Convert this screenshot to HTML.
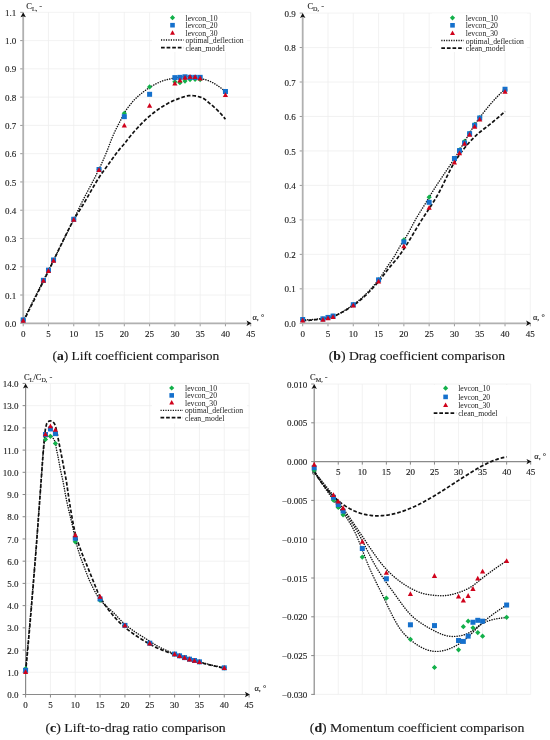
<!DOCTYPE html>
<html><head><meta charset="utf-8"><style>
html,body{margin:0;padding:0;background:#fff;}
svg{display:block;font-family:"Liberation Serif", serif;will-change:transform;}
text{stroke:#141414;stroke-width:0.12px;}
text.lg{stroke:none;}
</style></head><body>
<svg width="550" height="740" viewBox="0 0 550 740">
<rect width="550" height="740" fill="#fff"/>
<line x1="23.2" y1="323.3" x2="250.72" y2="323.3" stroke="#efefef" stroke-width="0.8"/>
<line x1="23.2" y1="295.03" x2="250.72" y2="295.03" stroke="#efefef" stroke-width="0.8"/>
<line x1="23.2" y1="266.76" x2="250.72" y2="266.76" stroke="#efefef" stroke-width="0.8"/>
<line x1="23.2" y1="238.49" x2="250.72" y2="238.49" stroke="#efefef" stroke-width="0.8"/>
<line x1="23.2" y1="210.22" x2="250.72" y2="210.22" stroke="#efefef" stroke-width="0.8"/>
<line x1="23.2" y1="181.95" x2="250.72" y2="181.95" stroke="#efefef" stroke-width="0.8"/>
<line x1="23.2" y1="153.68" x2="250.72" y2="153.68" stroke="#efefef" stroke-width="0.8"/>
<line x1="23.2" y1="125.41" x2="250.72" y2="125.41" stroke="#efefef" stroke-width="0.8"/>
<line x1="23.2" y1="97.14" x2="250.72" y2="97.14" stroke="#efefef" stroke-width="0.8"/>
<line x1="23.2" y1="68.87" x2="250.72" y2="68.87" stroke="#efefef" stroke-width="0.8"/>
<line x1="23.2" y1="40.6" x2="250.72" y2="40.6" stroke="#efefef" stroke-width="0.8"/>
<line x1="23.2" y1="12.33" x2="250.72" y2="12.33" stroke="#efefef" stroke-width="0.8"/>
<line x1="48.48" y1="12.33" x2="48.48" y2="323.3" stroke="#efefef" stroke-width="0.8"/>
<line x1="73.76" y1="12.33" x2="73.76" y2="323.3" stroke="#efefef" stroke-width="0.8"/>
<line x1="99.04" y1="12.33" x2="99.04" y2="323.3" stroke="#efefef" stroke-width="0.8"/>
<line x1="124.32" y1="12.33" x2="124.32" y2="323.3" stroke="#efefef" stroke-width="0.8"/>
<line x1="149.6" y1="12.33" x2="149.6" y2="323.3" stroke="#efefef" stroke-width="0.8"/>
<line x1="174.88" y1="12.33" x2="174.88" y2="323.3" stroke="#efefef" stroke-width="0.8"/>
<line x1="200.16" y1="12.33" x2="200.16" y2="323.3" stroke="#efefef" stroke-width="0.8"/>
<line x1="225.44" y1="12.33" x2="225.44" y2="323.3" stroke="#efefef" stroke-width="0.8"/>
<line x1="250.72" y1="12.33" x2="250.72" y2="323.3" stroke="#efefef" stroke-width="0.8"/>
<line x1="20.2" y1="323.3" x2="23.2" y2="323.3" stroke="#999" stroke-width="1"/>
<text x="16.2" y="326.9" text-anchor="end" font-size="9" fill="#222222">0.0</text>
<line x1="20.2" y1="295.03" x2="23.2" y2="295.03" stroke="#999" stroke-width="1"/>
<text x="16.2" y="298.63" text-anchor="end" font-size="9" fill="#222222">0.1</text>
<line x1="20.2" y1="266.76" x2="23.2" y2="266.76" stroke="#999" stroke-width="1"/>
<text x="16.2" y="270.36" text-anchor="end" font-size="9" fill="#222222">0.2</text>
<line x1="20.2" y1="238.49" x2="23.2" y2="238.49" stroke="#999" stroke-width="1"/>
<text x="16.2" y="242.09" text-anchor="end" font-size="9" fill="#222222">0.3</text>
<line x1="20.2" y1="210.22" x2="23.2" y2="210.22" stroke="#999" stroke-width="1"/>
<text x="16.2" y="213.82" text-anchor="end" font-size="9" fill="#222222">0.4</text>
<line x1="20.2" y1="181.95" x2="23.2" y2="181.95" stroke="#999" stroke-width="1"/>
<text x="16.2" y="185.55" text-anchor="end" font-size="9" fill="#222222">0.5</text>
<line x1="20.2" y1="153.68" x2="23.2" y2="153.68" stroke="#999" stroke-width="1"/>
<text x="16.2" y="157.28" text-anchor="end" font-size="9" fill="#222222">0.6</text>
<line x1="20.2" y1="125.41" x2="23.2" y2="125.41" stroke="#999" stroke-width="1"/>
<text x="16.2" y="129.01" text-anchor="end" font-size="9" fill="#222222">0.7</text>
<line x1="20.2" y1="97.14" x2="23.2" y2="97.14" stroke="#999" stroke-width="1"/>
<text x="16.2" y="100.74" text-anchor="end" font-size="9" fill="#222222">0.8</text>
<line x1="20.2" y1="68.87" x2="23.2" y2="68.87" stroke="#999" stroke-width="1"/>
<text x="16.2" y="72.47" text-anchor="end" font-size="9" fill="#222222">0.9</text>
<line x1="20.2" y1="40.6" x2="23.2" y2="40.6" stroke="#999" stroke-width="1"/>
<text x="16.2" y="44.2" text-anchor="end" font-size="9" fill="#222222">1.0</text>
<line x1="20.2" y1="12.33" x2="23.2" y2="12.33" stroke="#999" stroke-width="1"/>
<text x="16.2" y="15.93" text-anchor="end" font-size="9" fill="#222222">1.1</text>
<line x1="23.2" y1="323.3" x2="23.2" y2="326.3" stroke="#999" stroke-width="1"/>
<text x="23.2" y="336.5" text-anchor="middle" font-size="9" fill="#222222">0</text>
<line x1="48.48" y1="323.3" x2="48.48" y2="326.3" stroke="#999" stroke-width="1"/>
<text x="48.48" y="336.5" text-anchor="middle" font-size="9" fill="#222222">5</text>
<line x1="73.76" y1="323.3" x2="73.76" y2="326.3" stroke="#999" stroke-width="1"/>
<text x="73.76" y="336.5" text-anchor="middle" font-size="9" fill="#222222">10</text>
<line x1="99.04" y1="323.3" x2="99.04" y2="326.3" stroke="#999" stroke-width="1"/>
<text x="99.04" y="336.5" text-anchor="middle" font-size="9" fill="#222222">15</text>
<line x1="124.32" y1="323.3" x2="124.32" y2="326.3" stroke="#999" stroke-width="1"/>
<text x="124.32" y="336.5" text-anchor="middle" font-size="9" fill="#222222">20</text>
<line x1="149.6" y1="323.3" x2="149.6" y2="326.3" stroke="#999" stroke-width="1"/>
<text x="149.6" y="336.5" text-anchor="middle" font-size="9" fill="#222222">25</text>
<line x1="174.88" y1="323.3" x2="174.88" y2="326.3" stroke="#999" stroke-width="1"/>
<text x="174.88" y="336.5" text-anchor="middle" font-size="9" fill="#222222">30</text>
<line x1="200.16" y1="323.3" x2="200.16" y2="326.3" stroke="#999" stroke-width="1"/>
<text x="200.16" y="336.5" text-anchor="middle" font-size="9" fill="#222222">35</text>
<line x1="225.44" y1="323.3" x2="225.44" y2="326.3" stroke="#999" stroke-width="1"/>
<text x="225.44" y="336.5" text-anchor="middle" font-size="9" fill="#222222">40</text>
<line x1="250.72" y1="323.3" x2="250.72" y2="326.3" stroke="#999" stroke-width="1"/>
<text x="250.72" y="336.5" text-anchor="middle" font-size="9" fill="#222222">45</text>
<line x1="23.2" y1="323.8" x2="23.2" y2="15.33" stroke="#b0b0b0" stroke-width="1.8"/>
<line x1="22.7" y1="323.3" x2="247.72" y2="323.3" stroke="#b0b0b0" stroke-width="1.8"/>
<path d="M23.2,12.33 L25.9,17.33 L23.2,16.13 L20.5,17.33Z" fill="#111"/>
<path d="M251.52,323.3 L246.52,320.6 L247.72,323.3 L246.52,326Z" fill="#111"/>
<path d="M23.2,321.89 L24.46,319.35 L25.73,316.81 L26.99,314.27 L28.26,311.73 L29.52,309.19 L30.78,306.65 L32.05,304.11 L33.31,301.57 L34.58,299.02 L35.84,296.48 L37.1,293.93 L38.37,291.39 L39.63,288.84 L40.9,286.3 L42.16,283.75 L43.42,281.2 L44.69,278.65 L45.95,276.1 L47.22,273.55 L48.48,271 L49.74,268.43 L51.01,265.84 L52.27,263.22 L53.54,260.58 L54.8,257.93 L56.06,255.27 L57.33,252.61 L58.59,249.95 L59.86,247.29 L61.12,244.64 L62.38,242.01 L63.65,239.4 L64.91,236.82 L66.18,234.26 L67.44,231.74 L68.7,229.26 L69.97,226.83 L71.23,224.44 L72.5,222.11 L73.76,219.83 L75.02,217.64 L76.29,215.54 L77.55,213.49 L78.82,211.49 L80.08,209.49 L81.34,207.49 L82.61,205.45 L83.87,203.36 L85.14,201.21 L86.4,199.03 L87.66,196.82 L88.93,194.6 L90.19,192.37 L91.46,190.15 L92.72,187.94 L93.98,185.76 L95.25,183.61 L96.51,181.51 L97.78,179.46 L99.04,177.48 L100.3,175.57 L101.57,173.74 L102.83,171.96 L104.1,170.22 L105.36,168.5 L106.62,166.79 L107.89,165.06 L109.15,163.31 L110.42,161.55 L111.68,159.77 L112.94,157.99 L114.21,156.24 L115.47,154.51 L116.74,152.82 L118,151.18 L119.26,149.61 L120.53,148.13 L121.79,146.71 L123.06,145.28 L124.32,143.79 L125.58,142.18 L126.85,140.5 L128.11,138.84 L129.38,137.26 L130.64,135.74 L131.9,134.24 L133.17,132.76 L134.43,131.31 L135.7,129.88 L136.96,128.48 L138.22,127.1 L139.49,125.75 L140.75,124.44 L142.02,123.15 L143.28,121.89 L144.54,120.66 L145.81,119.45 L147.07,118.29 L148.34,117.16 L149.6,116.08 L150.86,115.03 L152.13,114 L153.39,112.99 L154.66,112 L155.92,111.04 L157.18,110.11 L158.45,109.21 L159.71,108.34 L160.98,107.51 L162.24,106.72 L163.5,105.94 L164.77,105.18 L166.03,104.43 L167.3,103.71 L168.56,103.01 L169.82,102.34 L171.09,101.71 L172.35,101.12 L173.62,100.57 L174.88,100.08 L176.14,99.6 L177.41,99.12 L178.67,98.63 L179.94,98.14 L181.2,97.68 L182.46,97.23 L183.73,96.83 L184.99,96.46 L186.26,96.15 L187.52,95.89 L188.78,95.71 L190.05,95.61 L191.31,95.59 L192.58,95.65 L193.84,95.77 L195.1,95.95 L196.37,96.18 L197.63,96.44 L198.9,96.75 L200.16,97.08 L201.42,97.44 L202.69,98.01 L203.95,98.77 L205.22,99.68 L206.48,100.7 L207.74,101.76 L209.01,102.82 L210.27,103.84 L211.54,104.87 L212.8,105.94 L214.06,107.05 L215.33,108.2 L216.59,109.4 L217.86,110.64 L219.12,111.92 L220.38,113.27 L221.65,114.67 L222.91,116.13 L224.18,117.64 L225.44,119.19" fill="none" stroke="#111" stroke-width="1.7" stroke-dasharray="3.7 1.9"/>
<path d="M23.2,320.47 L24.46,317.97 L25.73,315.47 L26.99,312.96 L28.26,310.45 L29.52,307.95 L30.78,305.44 L32.05,302.92 L33.31,300.41 L34.58,297.9 L35.84,295.38 L37.1,292.87 L38.37,290.35 L39.63,287.83 L40.9,285.31 L42.16,282.79 L43.42,280.26 L44.69,277.74 L45.95,275.21 L47.22,272.68 L48.48,270.15 L49.74,267.62 L51.01,265.1 L52.27,262.57 L53.54,260.05 L54.8,257.53 L56.06,255 L57.33,252.48 L58.59,249.95 L59.86,247.43 L61.12,244.89 L62.38,242.36 L63.65,239.82 L64.91,237.28 L66.18,234.73 L67.44,232.17 L68.7,229.61 L69.97,227.03 L71.23,224.45 L72.5,221.87 L73.76,219.27 L75.02,216.64 L76.29,213.97 L77.55,211.29 L78.82,208.62 L80.08,205.99 L81.34,203.4 L82.61,200.88 L83.87,198.41 L85.14,195.97 L86.4,193.56 L87.66,191.17 L88.93,188.79 L90.19,186.42 L91.46,184.03 L92.72,181.63 L93.98,179.21 L95.25,176.74 L96.51,174.24 L97.78,171.68 L99.04,169.06 L100.3,166.37 L101.57,163.62 L102.83,160.8 L104.1,157.93 L105.36,154.99 L106.62,151.97 L107.89,148.77 L109.15,145.46 L110.42,142.13 L111.68,138.88 L112.94,135.8 L114.21,132.95 L115.47,130.29 L116.74,127.75 L118,125.29 L119.26,122.86 L120.53,120.41 L121.79,117.87 L123.06,115.32 L124.32,112.91 L125.58,110.79 L126.85,109.01 L128.11,107.38 L129.38,105.76 L130.64,104.13 L131.9,102.54 L133.17,101.04 L134.43,99.68 L135.7,98.45 L136.96,97.26 L138.22,96.12 L139.49,95.01 L140.75,93.95 L142.02,92.93 L143.28,91.95 L144.54,91 L145.81,90.08 L147.07,89.2 L148.34,88.35 L149.6,87.53 L150.86,86.73 L152.13,85.96 L153.39,85.22 L154.66,84.52 L155.92,83.85 L157.18,83.22 L158.45,82.63 L159.71,82.08 L160.98,81.56 L162.24,81.05 L163.5,80.58 L164.77,80.16 L166.03,79.8 L167.3,79.5 L168.56,79.22 L169.82,78.94 L171.09,78.66 L172.35,78.39 L173.62,78.13 L174.88,77.89 L176.14,77.65 L177.41,77.43 L178.67,77.23 L179.94,77.05 L181.2,76.89 L182.46,76.76 L183.73,76.65 L184.99,76.57 L186.26,76.52 L187.52,76.5 L188.78,76.53 L190.05,76.59 L191.31,76.7 L192.58,76.84 L193.84,77.02 L195.1,77.23 L196.37,77.47 L197.63,77.73 L198.9,78.01 L200.16,78.31 L201.42,78.62 L202.69,78.94 L203.95,79.28 L205.22,79.61 L206.48,79.98 L207.74,80.42 L209.01,80.91 L210.27,81.46 L211.54,82.07 L212.8,82.73 L214.06,83.43 L215.33,84.19 L216.59,84.98 L217.86,85.82 L219.12,86.69 L220.38,87.59 L221.65,88.53 L222.91,89.49 L224.18,90.48 L225.44,91.49" fill="none" stroke="#111" stroke-width="1.45" stroke-linecap="round" stroke-dasharray="0.15 2.3"/>
<path d="M23.2,317.87 L25.8,320.47 L23.2,323.07 L20.6,320.47Z" fill="#12b04a"/>
<path d="M43.42,278.3 L46.02,280.9 L43.42,283.5 L40.82,280.9Z" fill="#12b04a"/>
<path d="M48.48,267.84 L51.08,270.44 L48.48,273.04 L45.88,270.44Z" fill="#12b04a"/>
<path d="M53.54,257.66 L56.14,260.26 L53.54,262.86 L50.94,260.26Z" fill="#12b04a"/>
<path d="M73.76,216.67 L76.36,219.27 L73.76,221.87 L71.16,219.27Z" fill="#12b04a"/>
<path d="M99.04,166.63 L101.64,169.23 L99.04,171.83 L96.44,169.23Z" fill="#12b04a"/>
<path d="M124.32,110.65 L126.92,113.25 L124.32,115.85 L121.72,113.25Z" fill="#12b04a"/>
<path d="M149.6,84.36 L152.2,86.96 L149.6,89.56 L147,86.96Z" fill="#12b04a"/>
<path d="M174.88,79.27 L177.48,81.87 L174.88,84.47 L172.28,81.87Z" fill="#12b04a"/>
<path d="M179.94,80.12 L182.54,82.72 L179.94,85.32 L177.34,82.72Z" fill="#12b04a"/>
<path d="M184.99,78.43 L187.59,81.03 L184.99,83.63 L182.39,81.03Z" fill="#12b04a"/>
<path d="M190.05,77.01 L192.65,79.61 L190.05,82.21 L187.45,79.61Z" fill="#12b04a"/>
<path d="M195.1,76.73 L197.7,79.33 L195.1,81.93 L192.5,79.33Z" fill="#12b04a"/>
<path d="M200.16,77.01 L202.76,79.61 L200.16,82.21 L197.56,79.61Z" fill="#12b04a"/>
<path d="M225.44,88.89 L228.04,91.49 L225.44,94.09 L222.84,91.49Z" fill="#12b04a"/>
<rect x="20.7" y="317.41" width="5" height="5" fill="#1570cc"/>
<rect x="40.92" y="277.83" width="5" height="5" fill="#1570cc"/>
<rect x="45.98" y="267.65" width="5" height="5" fill="#1570cc"/>
<rect x="51.04" y="257.48" width="5" height="5" fill="#1570cc"/>
<rect x="71.26" y="216.77" width="5" height="5" fill="#1570cc"/>
<rect x="96.54" y="167.01" width="5" height="5" fill="#1570cc"/>
<rect x="121.82" y="114.15" width="5" height="5" fill="#1570cc"/>
<rect x="147.1" y="91.81" width="5" height="5" fill="#1570cc"/>
<rect x="172.38" y="75.13" width="5" height="5" fill="#1570cc"/>
<rect x="177.44" y="74.85" width="5" height="5" fill="#1570cc"/>
<rect x="182.49" y="74.29" width="5" height="5" fill="#1570cc"/>
<rect x="187.55" y="74.85" width="5" height="5" fill="#1570cc"/>
<rect x="192.6" y="74.85" width="5" height="5" fill="#1570cc"/>
<rect x="197.66" y="74.85" width="5" height="5" fill="#1570cc"/>
<rect x="222.94" y="88.99" width="5" height="5" fill="#1570cc"/>
<path d="M23.2,317.87 L25.8,322.68 L20.6,322.68Z" fill="#d0021b"/>
<path d="M43.42,278.01 L46.02,282.82 L40.82,282.82Z" fill="#d0021b"/>
<path d="M48.48,268.12 L51.08,272.93 L45.88,272.93Z" fill="#d0021b"/>
<path d="M53.54,257.94 L56.14,262.75 L50.94,262.75Z" fill="#d0021b"/>
<path d="M73.76,216.95 L76.36,221.76 L71.16,221.76Z" fill="#d0021b"/>
<path d="M99.04,167.19 L101.64,172 L96.44,172Z" fill="#d0021b"/>
<path d="M124.32,122.81 L126.92,127.62 L121.72,127.62Z" fill="#d0021b"/>
<path d="M149.6,103.02 L152.2,107.83 L147,107.83Z" fill="#d0021b"/>
<path d="M174.88,80.69 L177.48,85.5 L172.28,85.5Z" fill="#d0021b"/>
<path d="M179.94,77.58 L182.54,82.39 L177.34,82.39Z" fill="#d0021b"/>
<path d="M184.99,75.03 L187.59,79.84 L182.39,79.84Z" fill="#d0021b"/>
<path d="M190.05,73.9 L192.65,78.71 L187.45,78.71Z" fill="#d0021b"/>
<path d="M195.1,74.19 L197.7,79 L192.5,79Z" fill="#d0021b"/>
<path d="M200.16,75.6 L202.76,80.41 L197.56,80.41Z" fill="#d0021b"/>
<path d="M225.44,92.28 L228.04,97.09 L222.84,97.09Z" fill="#d0021b"/>
<rect x="152" y="13" width="95" height="39" fill="#fff"/>
<path d="M172.5,15.1 L175.1,17.7 L172.5,20.3 L169.9,17.7Z" fill="#12b04a"/>
<text class="lg" x="185.5" y="20.7" font-size="7.7" fill="#1a1a1a">levcon_10</text>
<rect x="170.2" y="22.9" width="4.6" height="4.6" fill="#1570cc"/>
<text class="lg" x="185.5" y="28.2" font-size="7.7" fill="#1a1a1a">levcon_20</text>
<path d="M172.5,30.2 L175,34.83 L170,34.83Z" fill="#d0021b"/>
<text class="lg" x="185.5" y="35.7" font-size="7.7" fill="#1a1a1a">levcon_30</text>
<line x1="161" y1="40" x2="183.5" y2="40" stroke="#111" stroke-width="1.3" stroke-dasharray="1.2 1.25"/>
<text class="lg" x="185.5" y="43" font-size="7.7" fill="#1a1a1a">optimal_deflection</text>
<line x1="161" y1="47.7" x2="183.5" y2="47.7" stroke="#111" stroke-width="1.7" stroke-dasharray="3.7 1.9"/>
<text class="lg" x="185.5" y="50.7" font-size="7.7" fill="#1a1a1a">clean_model</text>
<line x1="302.7" y1="323.3" x2="530.31" y2="323.3" stroke="#efefef" stroke-width="0.8"/>
<line x1="302.7" y1="288.83" x2="530.31" y2="288.83" stroke="#efefef" stroke-width="0.8"/>
<line x1="302.7" y1="254.36" x2="530.31" y2="254.36" stroke="#efefef" stroke-width="0.8"/>
<line x1="302.7" y1="219.89" x2="530.31" y2="219.89" stroke="#efefef" stroke-width="0.8"/>
<line x1="302.7" y1="185.42" x2="530.31" y2="185.42" stroke="#efefef" stroke-width="0.8"/>
<line x1="302.7" y1="150.95" x2="530.31" y2="150.95" stroke="#efefef" stroke-width="0.8"/>
<line x1="302.7" y1="116.48" x2="530.31" y2="116.48" stroke="#efefef" stroke-width="0.8"/>
<line x1="302.7" y1="82.01" x2="530.31" y2="82.01" stroke="#efefef" stroke-width="0.8"/>
<line x1="302.7" y1="47.54" x2="530.31" y2="47.54" stroke="#efefef" stroke-width="0.8"/>
<line x1="302.7" y1="13.07" x2="530.31" y2="13.07" stroke="#efefef" stroke-width="0.8"/>
<line x1="327.99" y1="13.07" x2="327.99" y2="323.3" stroke="#efefef" stroke-width="0.8"/>
<line x1="353.28" y1="13.07" x2="353.28" y2="323.3" stroke="#efefef" stroke-width="0.8"/>
<line x1="378.57" y1="13.07" x2="378.57" y2="323.3" stroke="#efefef" stroke-width="0.8"/>
<line x1="403.86" y1="13.07" x2="403.86" y2="323.3" stroke="#efefef" stroke-width="0.8"/>
<line x1="429.15" y1="13.07" x2="429.15" y2="323.3" stroke="#efefef" stroke-width="0.8"/>
<line x1="454.44" y1="13.07" x2="454.44" y2="323.3" stroke="#efefef" stroke-width="0.8"/>
<line x1="479.73" y1="13.07" x2="479.73" y2="323.3" stroke="#efefef" stroke-width="0.8"/>
<line x1="505.02" y1="13.07" x2="505.02" y2="323.3" stroke="#efefef" stroke-width="0.8"/>
<line x1="530.31" y1="13.07" x2="530.31" y2="323.3" stroke="#efefef" stroke-width="0.8"/>
<line x1="299.7" y1="323.3" x2="302.7" y2="323.3" stroke="#999" stroke-width="1"/>
<text x="295.7" y="326.9" text-anchor="end" font-size="9" fill="#222222">0.0</text>
<line x1="299.7" y1="288.83" x2="302.7" y2="288.83" stroke="#999" stroke-width="1"/>
<text x="295.7" y="292.43" text-anchor="end" font-size="9" fill="#222222">0.1</text>
<line x1="299.7" y1="254.36" x2="302.7" y2="254.36" stroke="#999" stroke-width="1"/>
<text x="295.7" y="257.96" text-anchor="end" font-size="9" fill="#222222">0.2</text>
<line x1="299.7" y1="219.89" x2="302.7" y2="219.89" stroke="#999" stroke-width="1"/>
<text x="295.7" y="223.49" text-anchor="end" font-size="9" fill="#222222">0.3</text>
<line x1="299.7" y1="185.42" x2="302.7" y2="185.42" stroke="#999" stroke-width="1"/>
<text x="295.7" y="189.02" text-anchor="end" font-size="9" fill="#222222">0.4</text>
<line x1="299.7" y1="150.95" x2="302.7" y2="150.95" stroke="#999" stroke-width="1"/>
<text x="295.7" y="154.55" text-anchor="end" font-size="9" fill="#222222">0.5</text>
<line x1="299.7" y1="116.48" x2="302.7" y2="116.48" stroke="#999" stroke-width="1"/>
<text x="295.7" y="120.08" text-anchor="end" font-size="9" fill="#222222">0.6</text>
<line x1="299.7" y1="82.01" x2="302.7" y2="82.01" stroke="#999" stroke-width="1"/>
<text x="295.7" y="85.61" text-anchor="end" font-size="9" fill="#222222">0.7</text>
<line x1="299.7" y1="47.54" x2="302.7" y2="47.54" stroke="#999" stroke-width="1"/>
<text x="295.7" y="51.14" text-anchor="end" font-size="9" fill="#222222">0.8</text>
<line x1="299.7" y1="13.07" x2="302.7" y2="13.07" stroke="#999" stroke-width="1"/>
<text x="295.7" y="16.67" text-anchor="end" font-size="9" fill="#222222">0.9</text>
<line x1="302.7" y1="323.3" x2="302.7" y2="326.3" stroke="#999" stroke-width="1"/>
<text x="302.7" y="336.5" text-anchor="middle" font-size="9" fill="#222222">0</text>
<line x1="327.99" y1="323.3" x2="327.99" y2="326.3" stroke="#999" stroke-width="1"/>
<text x="327.99" y="336.5" text-anchor="middle" font-size="9" fill="#222222">5</text>
<line x1="353.28" y1="323.3" x2="353.28" y2="326.3" stroke="#999" stroke-width="1"/>
<text x="353.28" y="336.5" text-anchor="middle" font-size="9" fill="#222222">10</text>
<line x1="378.57" y1="323.3" x2="378.57" y2="326.3" stroke="#999" stroke-width="1"/>
<text x="378.57" y="336.5" text-anchor="middle" font-size="9" fill="#222222">15</text>
<line x1="403.86" y1="323.3" x2="403.86" y2="326.3" stroke="#999" stroke-width="1"/>
<text x="403.86" y="336.5" text-anchor="middle" font-size="9" fill="#222222">20</text>
<line x1="429.15" y1="323.3" x2="429.15" y2="326.3" stroke="#999" stroke-width="1"/>
<text x="429.15" y="336.5" text-anchor="middle" font-size="9" fill="#222222">25</text>
<line x1="454.44" y1="323.3" x2="454.44" y2="326.3" stroke="#999" stroke-width="1"/>
<text x="454.44" y="336.5" text-anchor="middle" font-size="9" fill="#222222">30</text>
<line x1="479.73" y1="323.3" x2="479.73" y2="326.3" stroke="#999" stroke-width="1"/>
<text x="479.73" y="336.5" text-anchor="middle" font-size="9" fill="#222222">35</text>
<line x1="505.02" y1="323.3" x2="505.02" y2="326.3" stroke="#999" stroke-width="1"/>
<text x="505.02" y="336.5" text-anchor="middle" font-size="9" fill="#222222">40</text>
<line x1="530.31" y1="323.3" x2="530.31" y2="326.3" stroke="#999" stroke-width="1"/>
<text x="530.31" y="336.5" text-anchor="middle" font-size="9" fill="#222222">45</text>
<line x1="302.7" y1="323.8" x2="302.7" y2="16.07" stroke="#b0b0b0" stroke-width="1.8"/>
<line x1="302.2" y1="323.3" x2="527.31" y2="323.3" stroke="#b0b0b0" stroke-width="1.8"/>
<path d="M302.7,13.07 L305.4,18.07 L302.7,16.87 L300,18.07Z" fill="#111"/>
<path d="M531.11,323.3 L526.11,320.6 L527.31,323.3 L526.11,326Z" fill="#111"/>
<path d="M302.7,320.54 L303.96,320.53 L305.23,320.51 L306.49,320.46 L307.76,320.4 L309.02,320.32 L310.29,320.23 L311.55,320.12 L312.82,320 L314.08,319.87 L315.34,319.73 L316.61,319.57 L317.87,319.41 L319.14,319.23 L320.4,319.04 L321.67,318.85 L322.93,318.65 L324.2,318.44 L325.46,318.23 L326.73,318.01 L327.99,317.78 L329.25,317.53 L330.52,317.22 L331.78,316.85 L333.05,316.44 L334.31,315.98 L335.58,315.47 L336.84,314.92 L338.11,314.33 L339.37,313.71 L340.63,313.05 L341.9,312.37 L343.16,311.66 L344.43,310.92 L345.69,310.17 L346.96,309.4 L348.22,308.61 L349.49,307.81 L350.75,307 L352.02,306.19 L353.28,305.38 L354.54,304.54 L355.81,303.65 L357.07,302.71 L358.34,301.73 L359.6,300.71 L360.87,299.64 L362.13,298.54 L363.4,297.4 L364.66,296.23 L365.92,295.02 L367.19,293.78 L368.45,292.52 L369.72,291.23 L370.98,289.91 L372.25,288.57 L373.51,287.21 L374.78,285.83 L376.04,284.43 L377.31,283.02 L378.57,281.59 L379.83,280.05 L381.1,278.38 L382.36,276.7 L383.63,275.02 L384.89,273.32 L386.16,271.62 L387.42,269.98 L388.69,268.39 L389.95,266.85 L391.21,265.35 L392.48,263.86 L393.74,262.4 L395.01,261 L396.27,259.57 L397.54,258.01 L398.8,256.33 L400.07,254.57 L401.33,252.74 L402.6,250.87 L403.86,248.98 L405.12,247.07 L406.39,245.1 L407.65,243.1 L408.92,241.05 L410.18,238.97 L411.45,236.88 L412.71,234.76 L413.98,232.64 L415.24,230.52 L416.5,228.4 L417.77,226.3 L419.03,224.21 L420.3,222.15 L421.56,220.13 L422.83,218.15 L424.09,216.22 L425.36,214.32 L426.62,212.44 L427.89,210.56 L429.15,208.66 L430.41,206.73 L431.68,204.76 L432.94,202.74 L434.21,200.7 L435.47,198.61 L436.74,196.48 L438,194.29 L439.27,191.99 L440.53,189.59 L441.79,187.11 L443.06,184.55 L444.32,181.96 L445.59,179.34 L446.85,176.73 L448.12,174.14 L449.38,171.59 L450.65,169.12 L451.91,166.73 L453.18,164.46 L454.44,162.33 L455.7,160.3 L456.97,158.33 L458.23,156.43 L459.5,154.6 L460.76,152.83 L462.03,151.13 L463.29,149.49 L464.56,147.91 L465.82,146.38 L467.08,144.89 L468.35,143.45 L469.61,142.04 L470.88,140.67 L472.14,139.35 L473.41,138.06 L474.67,136.82 L475.94,135.61 L477.2,134.45 L478.47,133.34 L479.73,132.27 L480.99,131.24 L482.26,130.24 L483.52,129.26 L484.79,128.3 L486.05,127.33 L487.32,126.37 L488.58,125.39 L489.85,124.4 L491.11,123.38 L492.38,122.33 L493.64,121.27 L494.9,120.21 L496.17,119.14 L497.43,118.06 L498.7,116.98 L499.96,115.89 L501.23,114.8 L502.49,113.7 L503.76,112.59 L505.02,111.48" fill="none" stroke="#111" stroke-width="1.7" stroke-dasharray="3.7 1.9"/>
<path d="M302.7,319.85 L303.96,319.85 L305.23,319.83 L306.49,319.8 L307.76,319.75 L309.02,319.7 L310.29,319.63 L311.55,319.55 L312.82,319.47 L314.08,319.37 L315.34,319.27 L316.61,319.15 L317.87,319.03 L319.14,318.9 L320.4,318.76 L321.67,318.61 L322.93,318.46 L324.2,318.3 L325.46,318.13 L326.73,317.96 L327.99,317.78 L329.25,317.57 L330.52,317.28 L331.78,316.93 L333.05,316.51 L334.31,316.04 L335.58,315.51 L336.84,314.93 L338.11,314.31 L339.37,313.64 L340.63,312.93 L341.9,312.19 L343.16,311.42 L344.43,310.63 L345.69,309.81 L346.96,308.98 L348.22,308.13 L349.49,307.27 L350.75,306.41 L352.02,305.55 L353.28,304.69 L354.54,303.81 L355.81,302.88 L357.07,301.92 L358.34,300.91 L359.6,299.87 L360.87,298.78 L362.13,297.65 L363.4,296.49 L364.66,295.29 L365.92,294.05 L367.19,292.78 L368.45,291.47 L369.72,290.13 L370.98,288.76 L372.25,287.35 L373.51,285.91 L374.78,284.45 L376.04,282.95 L377.31,281.42 L378.57,279.87 L379.83,278.19 L381.1,276.34 L382.36,274.36 L383.63,272.33 L384.89,270.28 L386.16,268.29 L387.42,266.4 L388.69,264.59 L389.95,262.83 L391.21,261.05 L392.48,259.23 L393.74,257.32 L395.01,255.26 L396.27,253.02 L397.54,250.69 L398.8,248.37 L400.07,246.14 L401.33,244.09 L402.6,242.18 L403.86,240.31 L405.12,238.41 L406.39,236.4 L407.65,234.23 L408.92,231.94 L410.18,229.57 L411.45,227.16 L412.71,224.74 L413.98,222.35 L415.24,220.03 L416.5,217.82 L417.77,215.7 L419.03,213.64 L420.3,211.62 L421.56,209.62 L422.83,207.63 L424.09,205.63 L425.36,203.6 L426.62,201.52 L427.89,199.4 L429.15,197.26 L430.41,195.13 L431.68,193.02 L432.94,190.98 L434.21,188.98 L435.47,187.01 L436.74,185.07 L438,183.14 L439.27,181.24 L440.53,179.35 L441.79,177.47 L443.06,175.61 L444.32,173.74 L445.59,171.88 L446.85,170.01 L448.12,168.13 L449.38,166.25 L450.65,164.35 L451.91,162.43 L453.18,160.5 L454.44,158.53 L455.7,156.53 L456.97,154.48 L458.23,152.4 L459.5,150.28 L460.76,148.14 L462.03,145.97 L463.29,143.8 L464.56,141.62 L465.82,139.44 L467.08,137.27 L468.35,135.11 L469.61,132.98 L470.88,130.87 L472.14,128.8 L473.41,126.78 L474.67,124.8 L475.94,122.88 L477.2,121.02 L478.47,119.23 L479.73,117.51 L480.99,115.85 L482.26,114.21 L483.52,112.59 L484.79,110.99 L486.05,109.42 L487.32,107.87 L488.58,106.34 L489.85,104.85 L491.11,103.38 L492.38,101.93 L493.64,100.52 L494.9,99.14 L496.17,97.78 L497.43,96.46 L498.7,95.17 L499.96,93.92 L501.23,92.7 L502.49,91.51 L503.76,90.36 L505.02,89.25" fill="none" stroke="#111" stroke-width="1.45" stroke-linecap="round" stroke-dasharray="0.15 2.3"/>
<path d="M302.7,316.91 L305.3,319.51 L302.7,322.11 L300.1,319.51Z" fill="#12b04a"/>
<path d="M322.93,316.22 L325.53,318.82 L322.93,321.42 L320.33,318.82Z" fill="#12b04a"/>
<path d="M327.99,314.84 L330.59,317.44 L327.99,320.04 L325.39,317.44Z" fill="#12b04a"/>
<path d="M333.05,313.46 L335.65,316.06 L333.05,318.66 L330.45,316.06Z" fill="#12b04a"/>
<path d="M353.28,302.09 L355.88,304.69 L353.28,307.29 L350.68,304.69Z" fill="#12b04a"/>
<path d="M378.57,277.27 L381.17,279.87 L378.57,282.47 L375.97,279.87Z" fill="#12b04a"/>
<path d="M403.86,237.28 L406.46,239.88 L403.86,242.48 L401.26,239.88Z" fill="#12b04a"/>
<path d="M429.15,194.54 L431.75,197.14 L429.15,199.74 L426.55,197.14Z" fill="#12b04a"/>
<path d="M454.44,155.93 L457.04,158.53 L454.44,161.13 L451.84,158.53Z" fill="#12b04a"/>
<path d="M459.5,147.32 L462.1,149.92 L459.5,152.52 L456.9,149.92Z" fill="#12b04a"/>
<path d="M464.56,138.7 L467.16,141.3 L464.56,143.9 L461.96,141.3Z" fill="#12b04a"/>
<path d="M469.61,130.77 L472.21,133.37 L469.61,135.97 L467.01,133.37Z" fill="#12b04a"/>
<path d="M474.67,121.81 L477.27,124.41 L474.67,127.01 L472.07,124.41Z" fill="#12b04a"/>
<path d="M479.73,114.91 L482.33,117.51 L479.73,120.11 L477.13,117.51Z" fill="#12b04a"/>
<path d="M505.02,87.34 L507.62,89.94 L505.02,92.54 L502.42,89.94Z" fill="#12b04a"/>
<rect x="300.2" y="317.01" width="5" height="5" fill="#1570cc"/>
<rect x="320.43" y="316.32" width="5" height="5" fill="#1570cc"/>
<rect x="325.49" y="314.94" width="5" height="5" fill="#1570cc"/>
<rect x="330.55" y="313.56" width="5" height="5" fill="#1570cc"/>
<rect x="350.78" y="302.19" width="5" height="5" fill="#1570cc"/>
<rect x="376.07" y="277.37" width="5" height="5" fill="#1570cc"/>
<rect x="401.36" y="239.45" width="5" height="5" fill="#1570cc"/>
<rect x="426.65" y="199.81" width="5" height="5" fill="#1570cc"/>
<rect x="451.94" y="156.03" width="5" height="5" fill="#1570cc"/>
<rect x="457" y="148.11" width="5" height="5" fill="#1570cc"/>
<rect x="462.06" y="140.52" width="5" height="5" fill="#1570cc"/>
<rect x="467.11" y="131.22" width="5" height="5" fill="#1570cc"/>
<rect x="472.17" y="122.77" width="5" height="5" fill="#1570cc"/>
<rect x="477.23" y="115.5" width="5" height="5" fill="#1570cc"/>
<rect x="502.52" y="86.75" width="5" height="5" fill="#1570cc"/>
<path d="M302.7,317.6 L305.3,322.41 L300.1,322.41Z" fill="#d0021b"/>
<path d="M322.93,316.91 L325.53,321.72 L320.33,321.72Z" fill="#d0021b"/>
<path d="M327.99,315.53 L330.59,320.34 L325.39,320.34Z" fill="#d0021b"/>
<path d="M333.05,314.15 L335.65,318.96 L330.45,318.96Z" fill="#d0021b"/>
<path d="M353.28,302.78 L355.88,307.59 L350.68,307.59Z" fill="#d0021b"/>
<path d="M378.57,278.65 L381.17,283.46 L375.97,283.46Z" fill="#d0021b"/>
<path d="M403.86,243.49 L406.46,248.3 L401.26,248.3Z" fill="#d0021b"/>
<path d="M429.15,204.88 L431.75,209.69 L426.55,209.69Z" fill="#d0021b"/>
<path d="M454.44,159.73 L457.04,164.54 L451.84,164.54Z" fill="#d0021b"/>
<path d="M459.5,150.42 L462.1,155.23 L456.9,155.23Z" fill="#d0021b"/>
<path d="M464.56,140.94 L467.16,145.75 L461.96,145.75Z" fill="#d0021b"/>
<path d="M469.61,131.94 L472.21,136.75 L467.01,136.75Z" fill="#d0021b"/>
<path d="M474.67,123.88 L477.27,128.69 L472.07,128.69Z" fill="#d0021b"/>
<path d="M479.73,116.71 L482.33,121.52 L477.13,121.52Z" fill="#d0021b"/>
<path d="M505.02,89.06 L507.62,93.87 L502.42,93.87Z" fill="#d0021b"/>
<rect x="432" y="13.5" width="95" height="38.5" fill="#fff"/>
<path d="M452.5,15.2 L455.1,17.8 L452.5,20.4 L449.9,17.8Z" fill="#12b04a"/>
<text class="lg" x="465.8" y="20.8" font-size="7.7" fill="#1a1a1a">levcon_10</text>
<rect x="450.2" y="23" width="4.6" height="4.6" fill="#1570cc"/>
<text class="lg" x="465.8" y="28.3" font-size="7.7" fill="#1a1a1a">levcon_20</text>
<path d="M452.5,30.4 L455,35.02 L450,35.02Z" fill="#d0021b"/>
<text class="lg" x="465.8" y="35.9" font-size="7.7" fill="#1a1a1a">levcon_30</text>
<line x1="441.3" y1="40.5" x2="463.8" y2="40.5" stroke="#111" stroke-width="1.3" stroke-dasharray="1.2 1.25"/>
<text class="lg" x="465.8" y="43.5" font-size="7.7" fill="#1a1a1a">optimal_deflection</text>
<line x1="441.3" y1="48.1" x2="463.8" y2="48.1" stroke="#111" stroke-width="1.7" stroke-dasharray="3.7 1.9"/>
<text class="lg" x="465.8" y="51.1" font-size="7.7" fill="#1a1a1a">clean_model</text>
<line x1="25.6" y1="694.5" x2="249.11" y2="694.5" stroke="#efefef" stroke-width="0.8"/>
<line x1="25.6" y1="672.28" x2="249.11" y2="672.28" stroke="#efefef" stroke-width="0.8"/>
<line x1="25.6" y1="650.06" x2="249.11" y2="650.06" stroke="#efefef" stroke-width="0.8"/>
<line x1="25.6" y1="627.84" x2="249.11" y2="627.84" stroke="#efefef" stroke-width="0.8"/>
<line x1="25.6" y1="605.62" x2="249.11" y2="605.62" stroke="#efefef" stroke-width="0.8"/>
<line x1="25.6" y1="583.4" x2="249.11" y2="583.4" stroke="#efefef" stroke-width="0.8"/>
<line x1="25.6" y1="561.18" x2="249.11" y2="561.18" stroke="#efefef" stroke-width="0.8"/>
<line x1="25.6" y1="538.96" x2="249.11" y2="538.96" stroke="#efefef" stroke-width="0.8"/>
<line x1="25.6" y1="516.74" x2="249.11" y2="516.74" stroke="#efefef" stroke-width="0.8"/>
<line x1="25.6" y1="494.52" x2="249.11" y2="494.52" stroke="#efefef" stroke-width="0.8"/>
<line x1="25.6" y1="472.3" x2="249.11" y2="472.3" stroke="#efefef" stroke-width="0.8"/>
<line x1="25.6" y1="450.08" x2="249.11" y2="450.08" stroke="#efefef" stroke-width="0.8"/>
<line x1="25.6" y1="427.86" x2="249.11" y2="427.86" stroke="#efefef" stroke-width="0.8"/>
<line x1="25.6" y1="405.64" x2="249.11" y2="405.64" stroke="#efefef" stroke-width="0.8"/>
<line x1="25.6" y1="383.42" x2="249.11" y2="383.42" stroke="#efefef" stroke-width="0.8"/>
<line x1="50.44" y1="383.42" x2="50.44" y2="694.5" stroke="#efefef" stroke-width="0.8"/>
<line x1="75.27" y1="383.42" x2="75.27" y2="694.5" stroke="#efefef" stroke-width="0.8"/>
<line x1="100.1" y1="383.42" x2="100.1" y2="694.5" stroke="#efefef" stroke-width="0.8"/>
<line x1="124.94" y1="383.42" x2="124.94" y2="694.5" stroke="#efefef" stroke-width="0.8"/>
<line x1="149.78" y1="383.42" x2="149.78" y2="694.5" stroke="#efefef" stroke-width="0.8"/>
<line x1="174.61" y1="383.42" x2="174.61" y2="694.5" stroke="#efefef" stroke-width="0.8"/>
<line x1="199.44" y1="383.42" x2="199.44" y2="694.5" stroke="#efefef" stroke-width="0.8"/>
<line x1="224.28" y1="383.42" x2="224.28" y2="694.5" stroke="#efefef" stroke-width="0.8"/>
<line x1="249.11" y1="383.42" x2="249.11" y2="694.5" stroke="#efefef" stroke-width="0.8"/>
<line x1="22.6" y1="694.5" x2="25.6" y2="694.5" stroke="#888" stroke-width="1"/>
<text x="18.6" y="698.1" text-anchor="end" font-size="9" fill="#222222">0.0</text>
<line x1="22.6" y1="672.28" x2="25.6" y2="672.28" stroke="#888" stroke-width="1"/>
<text x="18.6" y="675.88" text-anchor="end" font-size="9" fill="#222222">1.0</text>
<line x1="22.6" y1="650.06" x2="25.6" y2="650.06" stroke="#888" stroke-width="1"/>
<text x="18.6" y="653.66" text-anchor="end" font-size="9" fill="#222222">2.0</text>
<line x1="22.6" y1="627.84" x2="25.6" y2="627.84" stroke="#888" stroke-width="1"/>
<text x="18.6" y="631.44" text-anchor="end" font-size="9" fill="#222222">3.0</text>
<line x1="22.6" y1="605.62" x2="25.6" y2="605.62" stroke="#888" stroke-width="1"/>
<text x="18.6" y="609.22" text-anchor="end" font-size="9" fill="#222222">4.0</text>
<line x1="22.6" y1="583.4" x2="25.6" y2="583.4" stroke="#888" stroke-width="1"/>
<text x="18.6" y="587" text-anchor="end" font-size="9" fill="#222222">5.0</text>
<line x1="22.6" y1="561.18" x2="25.6" y2="561.18" stroke="#888" stroke-width="1"/>
<text x="18.6" y="564.78" text-anchor="end" font-size="9" fill="#222222">6.0</text>
<line x1="22.6" y1="538.96" x2="25.6" y2="538.96" stroke="#888" stroke-width="1"/>
<text x="18.6" y="542.56" text-anchor="end" font-size="9" fill="#222222">7.0</text>
<line x1="22.6" y1="516.74" x2="25.6" y2="516.74" stroke="#888" stroke-width="1"/>
<text x="18.6" y="520.34" text-anchor="end" font-size="9" fill="#222222">8.0</text>
<line x1="22.6" y1="494.52" x2="25.6" y2="494.52" stroke="#888" stroke-width="1"/>
<text x="18.6" y="498.12" text-anchor="end" font-size="9" fill="#222222">9.0</text>
<line x1="22.6" y1="472.3" x2="25.6" y2="472.3" stroke="#888" stroke-width="1"/>
<text x="18.6" y="475.9" text-anchor="end" font-size="9" fill="#222222">10.0</text>
<line x1="22.6" y1="450.08" x2="25.6" y2="450.08" stroke="#888" stroke-width="1"/>
<text x="18.6" y="453.68" text-anchor="end" font-size="9" fill="#222222">11.0</text>
<line x1="22.6" y1="427.86" x2="25.6" y2="427.86" stroke="#888" stroke-width="1"/>
<text x="18.6" y="431.46" text-anchor="end" font-size="9" fill="#222222">12.0</text>
<line x1="22.6" y1="405.64" x2="25.6" y2="405.64" stroke="#888" stroke-width="1"/>
<text x="18.6" y="409.24" text-anchor="end" font-size="9" fill="#222222">13.0</text>
<line x1="22.6" y1="383.42" x2="25.6" y2="383.42" stroke="#888" stroke-width="1"/>
<text x="18.6" y="387.02" text-anchor="end" font-size="9" fill="#222222">14.0</text>
<line x1="25.6" y1="694.5" x2="25.6" y2="697.5" stroke="#888" stroke-width="1"/>
<text x="25.6" y="707.7" text-anchor="middle" font-size="9" fill="#222222">0</text>
<line x1="50.44" y1="694.5" x2="50.44" y2="697.5" stroke="#888" stroke-width="1"/>
<text x="50.44" y="707.7" text-anchor="middle" font-size="9" fill="#222222">5</text>
<line x1="75.27" y1="694.5" x2="75.27" y2="697.5" stroke="#888" stroke-width="1"/>
<text x="75.27" y="707.7" text-anchor="middle" font-size="9" fill="#222222">10</text>
<line x1="100.1" y1="694.5" x2="100.1" y2="697.5" stroke="#888" stroke-width="1"/>
<text x="100.1" y="707.7" text-anchor="middle" font-size="9" fill="#222222">15</text>
<line x1="124.94" y1="694.5" x2="124.94" y2="697.5" stroke="#888" stroke-width="1"/>
<text x="124.94" y="707.7" text-anchor="middle" font-size="9" fill="#222222">20</text>
<line x1="149.78" y1="694.5" x2="149.78" y2="697.5" stroke="#888" stroke-width="1"/>
<text x="149.78" y="707.7" text-anchor="middle" font-size="9" fill="#222222">25</text>
<line x1="174.61" y1="694.5" x2="174.61" y2="697.5" stroke="#888" stroke-width="1"/>
<text x="174.61" y="707.7" text-anchor="middle" font-size="9" fill="#222222">30</text>
<line x1="199.44" y1="694.5" x2="199.44" y2="697.5" stroke="#888" stroke-width="1"/>
<text x="199.44" y="707.7" text-anchor="middle" font-size="9" fill="#222222">35</text>
<line x1="224.28" y1="694.5" x2="224.28" y2="697.5" stroke="#888" stroke-width="1"/>
<text x="224.28" y="707.7" text-anchor="middle" font-size="9" fill="#222222">40</text>
<line x1="249.11" y1="694.5" x2="249.11" y2="697.5" stroke="#888" stroke-width="1"/>
<text x="249.11" y="707.7" text-anchor="middle" font-size="9" fill="#222222">45</text>
<line x1="25.6" y1="695" x2="25.6" y2="386.42" stroke="#8a8a8a" stroke-width="1.2"/>
<line x1="25.1" y1="694.5" x2="246.11" y2="694.5" stroke="#8a8a8a" stroke-width="1.2"/>
<path d="M25.6,383.42 L28.3,388.42 L25.6,387.22 L22.9,388.42Z" fill="#111"/>
<path d="M249.91,694.5 L244.91,691.8 L246.11,694.5 L244.91,697.2Z" fill="#111"/>
<path d="M25.6,672.28 L26.84,659.09 L28.08,645.49 L29.33,631.52 L30.57,617.18 L31.81,602.51 L33.05,587.53 L34.29,572.26 L35.53,556.74 L36.78,540.66 L38.02,523.92 L39.26,506.77 L40.5,489.5 L41.74,472.37 L42.98,455.04 L44.23,439.51 L45.47,428.35 L46.71,423.65 L47.95,421.86 L49.19,421.12 L50.44,420.76 L51.68,421.01 L52.92,421.88 L54.16,423.17 L55.4,425.64 L56.64,431.17 L57.89,437.19 L59.13,443.53 L60.37,449.91 L61.61,456.03 L62.85,462.34 L64.09,469.28 L65.34,475.55 L66.58,482.42 L67.82,491.26 L69.06,499.55 L70.3,507.29 L71.54,514.77 L72.79,521.77 L74.03,528.06 L75.27,533.4 L76.51,537.89 L77.75,541.82 L79,545.39 L80.24,548.73 L81.48,552.03 L82.72,555.25 L83.96,558.28 L85.2,561.22 L86.45,564.17 L87.69,567.22 L88.93,570.33 L90.17,573.44 L91.41,576.53 L92.65,579.56 L93.9,582.63 L95.14,585.75 L96.38,588.83 L97.62,591.77 L98.86,594.5 L100.1,596.91 L101.35,599.11 L102.59,601.18 L103.83,603.15 L105.07,605.03 L106.31,606.81 L107.56,608.52 L108.8,610.16 L110.04,611.75 L111.28,613.28 L112.52,614.78 L113.76,616.23 L115.01,617.65 L116.25,619.02 L117.49,620.35 L118.73,621.64 L119.97,622.89 L121.21,624.08 L122.46,625.23 L123.7,626.34 L124.94,627.4 L126.18,628.41 L127.42,629.41 L128.67,630.38 L129.91,631.32 L131.15,632.24 L132.39,633.14 L133.63,634.02 L134.87,634.88 L136.12,635.72 L137.36,636.54 L138.6,637.35 L139.84,638.15 L141.08,638.92 L142.32,639.69 L143.57,640.44 L144.81,641.19 L146.05,641.92 L147.29,642.65 L148.53,643.37 L149.78,644.07 L151.02,644.77 L152.26,645.45 L153.5,646.11 L154.74,646.75 L155.98,647.37 L157.23,647.97 L158.47,648.53 L159.71,649.07 L160.95,649.59 L162.19,650.09 L163.43,650.57 L164.68,651.04 L165.92,651.5 L167.16,651.94 L168.4,652.38 L169.64,652.81 L170.88,653.24 L172.13,653.66 L173.37,654.08 L174.61,654.5 L175.85,654.93 L177.09,655.35 L178.34,655.77 L179.58,656.18 L180.82,656.6 L182.06,657.01 L183.3,657.42 L184.54,657.82 L185.79,658.22 L187.03,658.62 L188.27,659.01 L189.51,659.4 L190.75,659.78 L191.99,660.16 L193.24,660.53 L194.48,660.89 L195.72,661.25 L196.96,661.6 L198.2,661.95 L199.44,662.28 L200.69,662.61 L201.93,662.94 L203.17,663.26 L204.41,663.58 L205.65,663.89 L206.9,664.2 L208.14,664.51 L209.38,664.81 L210.62,665.11 L211.86,665.4 L213.1,665.69 L214.35,665.97 L215.59,666.25 L216.83,666.53 L218.07,666.79 L219.31,667.06 L220.55,667.32 L221.8,667.57 L223.04,667.82 L224.28,668.06" fill="none" stroke="#111" stroke-width="1.7" stroke-dasharray="3.7 1.9"/>
<path d="M25.6,670.06 L26.84,656.65 L28.08,642.91 L29.33,628.86 L30.57,614.51 L31.81,599.88 L33.05,584.99 L34.29,569.86 L35.53,554.51 L36.78,538.68 L38.02,522.26 L39.26,505.53 L40.5,488.75 L41.74,472.19 L42.98,454.3 L44.23,442.93 L45.47,439.41 L46.71,437.45 L47.95,436.3 L49.19,435.69 L50.44,435.41 L51.68,436.22 L52.92,437.86 L54.16,439.83 L55.4,442.97 L56.64,450.26 L57.89,456.1 L59.13,462.54 L60.37,469.35 L61.61,474.89 L62.85,480.54 L64.09,487.16 L65.34,494.11 L66.58,500.55 L67.82,506.24 L69.06,511.53 L70.3,516.64 L71.54,521.78 L72.79,527.17 L74.03,533.14 L75.27,538.96 L76.51,543.87 L77.75,548.36 L79,552.5 L80.24,556.32 L81.48,559.81 L82.72,563.12 L83.96,566.41 L85.2,569.72 L86.45,572.99 L87.69,576.17 L88.93,579.18 L90.17,581.97 L91.41,584.58 L92.65,587.11 L93.9,589.57 L95.14,591.91 L96.38,594.13 L97.62,596.19 L98.86,598.07 L100.1,599.75 L101.35,601.26 L102.59,602.65 L103.83,603.93 L105.07,605.14 L106.31,606.28 L107.56,607.38 L108.8,608.46 L110.04,609.53 L111.28,610.62 L112.52,611.75 L113.76,612.93 L115.01,614.18 L116.25,615.48 L117.49,616.8 L118.73,618.14 L119.97,619.47 L121.21,620.76 L122.46,622.01 L123.7,623.19 L124.94,624.28 L126.18,625.31 L127.42,626.3 L128.67,627.27 L129.91,628.21 L131.15,629.12 L132.39,630.01 L133.63,630.87 L134.87,631.72 L136.12,632.56 L137.36,633.38 L138.6,634.18 L139.84,634.98 L141.08,635.77 L142.32,636.55 L143.57,637.34 L144.81,638.12 L146.05,638.9 L147.29,639.68 L148.53,640.47 L149.78,641.27 L151.02,642.07 L152.26,642.86 L153.5,643.65 L154.74,644.41 L155.98,645.16 L157.23,645.88 L158.47,646.56 L159.71,647.21 L160.95,647.84 L162.19,648.45 L163.43,649.05 L164.68,649.64 L165.92,650.21 L167.16,650.77 L168.4,651.32 L169.64,651.85 L170.88,652.36 L172.13,652.87 L173.37,653.36 L174.61,653.84 L175.85,654.3 L177.09,654.76 L178.34,655.21 L179.58,655.66 L180.82,656.09 L182.06,656.52 L183.3,656.94 L184.54,657.35 L185.79,657.76 L187.03,658.16 L188.27,658.55 L189.51,658.94 L190.75,659.32 L191.99,659.69 L193.24,660.06 L194.48,660.43 L195.72,660.79 L196.96,661.14 L198.2,661.49 L199.44,661.84 L200.69,662.18 L201.93,662.51 L203.17,662.85 L204.41,663.18 L205.65,663.5 L206.9,663.83 L208.14,664.14 L209.38,664.46 L210.62,664.76 L211.86,665.07 L213.1,665.37 L214.35,665.66 L215.59,665.95 L216.83,666.24 L218.07,666.52 L219.31,666.79 L220.55,667.06 L221.8,667.32 L223.04,667.58 L224.28,667.84" fill="none" stroke="#111" stroke-width="1.45" stroke-linecap="round" stroke-dasharray="0.15 2.3"/>
<path d="M25.6,666.12 L28.2,668.72 L25.6,671.32 L23,668.72Z" fill="#12b04a"/>
<path d="M45.47,436.81 L48.07,439.41 L45.47,442.01 L42.87,439.41Z" fill="#12b04a"/>
<path d="M50.44,433.7 L53.04,436.3 L50.44,438.9 L47.84,436.3Z" fill="#12b04a"/>
<path d="M55.4,440.81 L58,443.41 L55.4,446.01 L52.8,443.41Z" fill="#12b04a"/>
<path d="M75.27,539.25 L77.87,541.85 L75.27,544.45 L72.67,541.85Z" fill="#12b04a"/>
<path d="M100.1,597.69 L102.7,600.29 L100.1,602.89 L97.5,600.29Z" fill="#12b04a"/>
<path d="M124.94,623.02 L127.54,625.62 L124.94,628.22 L122.34,625.62Z" fill="#12b04a"/>
<path d="M149.78,640.79 L152.38,643.39 L149.78,645.99 L147.18,643.39Z" fill="#12b04a"/>
<path d="M174.61,651.46 L177.21,654.06 L174.61,656.66 L172.01,654.06Z" fill="#12b04a"/>
<path d="M179.58,653.24 L182.18,655.84 L179.58,658.44 L176.98,655.84Z" fill="#12b04a"/>
<path d="M184.54,655.01 L187.14,657.61 L184.54,660.21 L181.94,657.61Z" fill="#12b04a"/>
<path d="M189.51,656.57 L192.11,659.17 L189.51,661.77 L186.91,659.17Z" fill="#12b04a"/>
<path d="M194.48,657.9 L197.08,660.5 L194.48,663.1 L191.88,660.5Z" fill="#12b04a"/>
<path d="M199.44,659.24 L202.04,661.84 L199.44,664.44 L196.84,661.84Z" fill="#12b04a"/>
<path d="M224.28,665.24 L226.88,667.84 L224.28,670.44 L221.68,667.84Z" fill="#12b04a"/>
<rect x="23.1" y="667.78" width="5" height="5" fill="#1570cc"/>
<rect x="42.97" y="432.03" width="5" height="5" fill="#1570cc"/>
<rect x="47.94" y="426.47" width="5" height="5" fill="#1570cc"/>
<rect x="52.9" y="431.14" width="5" height="5" fill="#1570cc"/>
<rect x="72.77" y="535.79" width="5" height="5" fill="#1570cc"/>
<rect x="97.6" y="596.45" width="5" height="5" fill="#1570cc"/>
<rect x="122.44" y="622.9" width="5" height="5" fill="#1570cc"/>
<rect x="147.28" y="640.67" width="5" height="5" fill="#1570cc"/>
<rect x="172.11" y="651.56" width="5" height="5" fill="#1570cc"/>
<rect x="177.08" y="653.34" width="5" height="5" fill="#1570cc"/>
<rect x="182.04" y="655.11" width="5" height="5" fill="#1570cc"/>
<rect x="187.01" y="656.67" width="5" height="5" fill="#1570cc"/>
<rect x="191.98" y="658" width="5" height="5" fill="#1570cc"/>
<rect x="196.94" y="659.34" width="5" height="5" fill="#1570cc"/>
<rect x="221.78" y="665.34" width="5" height="5" fill="#1570cc"/>
<path d="M25.6,669.24 L28.2,674.05 L23,674.05Z" fill="#d0021b"/>
<path d="M45.47,431.48 L48.07,436.29 L42.87,436.29Z" fill="#d0021b"/>
<path d="M50.44,423.48 L53.04,428.29 L47.84,428.29Z" fill="#d0021b"/>
<path d="M55.4,427.04 L58,431.85 L52.8,431.85Z" fill="#d0021b"/>
<path d="M75.27,532.36 L77.87,537.17 L72.67,537.17Z" fill="#d0021b"/>
<path d="M100.1,593.91 L102.7,598.72 L97.5,598.72Z" fill="#d0021b"/>
<path d="M124.94,622.8 L127.54,627.61 L122.34,627.61Z" fill="#d0021b"/>
<path d="M149.78,640.57 L152.38,645.38 L147.18,645.38Z" fill="#d0021b"/>
<path d="M174.61,651.46 L177.21,656.27 L172.01,656.27Z" fill="#d0021b"/>
<path d="M179.58,653.24 L182.18,658.05 L176.98,658.05Z" fill="#d0021b"/>
<path d="M184.54,655.01 L187.14,659.82 L181.94,659.82Z" fill="#d0021b"/>
<path d="M189.51,656.57 L192.11,661.38 L186.91,661.38Z" fill="#d0021b"/>
<path d="M194.48,657.9 L197.08,662.71 L191.88,662.71Z" fill="#d0021b"/>
<path d="M199.44,659.24 L202.04,664.05 L196.84,664.05Z" fill="#d0021b"/>
<path d="M224.28,665.24 L226.88,670.05 L221.68,670.05Z" fill="#d0021b"/>
<rect x="152" y="384" width="95" height="39" fill="#fff"/>
<path d="M171.7,385.4 L174.3,388 L171.7,390.6 L169.1,388Z" fill="#12b04a"/>
<text class="lg" x="185" y="391" font-size="7.7" fill="#1a1a1a">levcon_10</text>
<rect x="169.4" y="393.1" width="4.6" height="4.6" fill="#1570cc"/>
<text class="lg" x="185" y="398.4" font-size="7.7" fill="#1a1a1a">levcon_20</text>
<path d="M171.7,400 L174.2,404.62 L169.2,404.62Z" fill="#d0021b"/>
<text class="lg" x="185" y="405.5" font-size="7.7" fill="#1a1a1a">levcon_30</text>
<line x1="160.5" y1="410.3" x2="183" y2="410.3" stroke="#111" stroke-width="1.3" stroke-dasharray="1.2 1.25"/>
<text class="lg" x="185" y="413.3" font-size="7.7" fill="#1a1a1a">optimal_deflection</text>
<line x1="160.5" y1="417.7" x2="183" y2="417.7" stroke="#111" stroke-width="1.7" stroke-dasharray="3.7 1.9"/>
<text class="lg" x="185" y="420.7" font-size="7.7" fill="#1a1a1a">clean_model</text>
<line x1="314.2" y1="694.4" x2="530.69" y2="694.4" stroke="#efefef" stroke-width="0.8"/>
<line x1="314.2" y1="655.6" x2="530.69" y2="655.6" stroke="#efefef" stroke-width="0.8"/>
<line x1="314.2" y1="616.8" x2="530.69" y2="616.8" stroke="#efefef" stroke-width="0.8"/>
<line x1="314.2" y1="578" x2="530.69" y2="578" stroke="#efefef" stroke-width="0.8"/>
<line x1="314.2" y1="539.2" x2="530.69" y2="539.2" stroke="#efefef" stroke-width="0.8"/>
<line x1="314.2" y1="500.4" x2="530.69" y2="500.4" stroke="#efefef" stroke-width="0.8"/>
<line x1="314.2" y1="461.6" x2="530.69" y2="461.6" stroke="#efefef" stroke-width="0.8"/>
<line x1="314.2" y1="422.8" x2="530.69" y2="422.8" stroke="#efefef" stroke-width="0.8"/>
<line x1="314.2" y1="384" x2="530.69" y2="384" stroke="#efefef" stroke-width="0.8"/>
<line x1="338.25" y1="384" x2="338.25" y2="694.4" stroke="#efefef" stroke-width="0.8"/>
<line x1="362.31" y1="384" x2="362.31" y2="694.4" stroke="#efefef" stroke-width="0.8"/>
<line x1="386.37" y1="384" x2="386.37" y2="694.4" stroke="#efefef" stroke-width="0.8"/>
<line x1="410.42" y1="384" x2="410.42" y2="694.4" stroke="#efefef" stroke-width="0.8"/>
<line x1="434.48" y1="384" x2="434.48" y2="694.4" stroke="#efefef" stroke-width="0.8"/>
<line x1="458.53" y1="384" x2="458.53" y2="694.4" stroke="#efefef" stroke-width="0.8"/>
<line x1="482.58" y1="384" x2="482.58" y2="694.4" stroke="#efefef" stroke-width="0.8"/>
<line x1="506.64" y1="384" x2="506.64" y2="694.4" stroke="#efefef" stroke-width="0.8"/>
<line x1="530.69" y1="384" x2="530.69" y2="694.4" stroke="#efefef" stroke-width="0.8"/>
<line x1="311.2" y1="694.4" x2="314.2" y2="694.4" stroke="#888" stroke-width="1"/>
<text x="307.2" y="698" text-anchor="end" font-size="9" fill="#222222">−0.030</text>
<line x1="311.2" y1="655.6" x2="314.2" y2="655.6" stroke="#888" stroke-width="1"/>
<text x="307.2" y="659.2" text-anchor="end" font-size="9" fill="#222222">−0.025</text>
<line x1="311.2" y1="616.8" x2="314.2" y2="616.8" stroke="#888" stroke-width="1"/>
<text x="307.2" y="620.4" text-anchor="end" font-size="9" fill="#222222">−0.020</text>
<line x1="311.2" y1="578" x2="314.2" y2="578" stroke="#888" stroke-width="1"/>
<text x="307.2" y="581.6" text-anchor="end" font-size="9" fill="#222222">−0.015</text>
<line x1="311.2" y1="539.2" x2="314.2" y2="539.2" stroke="#888" stroke-width="1"/>
<text x="307.2" y="542.8" text-anchor="end" font-size="9" fill="#222222">−0.010</text>
<line x1="311.2" y1="500.4" x2="314.2" y2="500.4" stroke="#888" stroke-width="1"/>
<text x="307.2" y="504" text-anchor="end" font-size="9" fill="#222222">−0.005</text>
<line x1="311.2" y1="461.6" x2="314.2" y2="461.6" stroke="#888" stroke-width="1"/>
<text x="307.2" y="465.2" text-anchor="end" font-size="9" fill="#222222">0.000</text>
<line x1="311.2" y1="422.8" x2="314.2" y2="422.8" stroke="#888" stroke-width="1"/>
<text x="307.2" y="426.4" text-anchor="end" font-size="9" fill="#222222">0.005</text>
<line x1="311.2" y1="384" x2="314.2" y2="384" stroke="#888" stroke-width="1"/>
<text x="307.2" y="387.6" text-anchor="end" font-size="9" fill="#222222">0.010</text>
<line x1="314.2" y1="461.6" x2="314.2" y2="464.6" stroke="#888" stroke-width="1"/>
<text x="314.2" y="474.8" text-anchor="middle" font-size="9" fill="#222222">0</text>
<line x1="338.25" y1="461.6" x2="338.25" y2="464.6" stroke="#888" stroke-width="1"/>
<text x="338.25" y="474.8" text-anchor="middle" font-size="9" fill="#222222">5</text>
<line x1="362.31" y1="461.6" x2="362.31" y2="464.6" stroke="#888" stroke-width="1"/>
<text x="362.31" y="474.8" text-anchor="middle" font-size="9" fill="#222222">10</text>
<line x1="386.37" y1="461.6" x2="386.37" y2="464.6" stroke="#888" stroke-width="1"/>
<text x="386.37" y="474.8" text-anchor="middle" font-size="9" fill="#222222">15</text>
<line x1="410.42" y1="461.6" x2="410.42" y2="464.6" stroke="#888" stroke-width="1"/>
<text x="410.42" y="474.8" text-anchor="middle" font-size="9" fill="#222222">20</text>
<line x1="434.48" y1="461.6" x2="434.48" y2="464.6" stroke="#888" stroke-width="1"/>
<text x="434.48" y="474.8" text-anchor="middle" font-size="9" fill="#222222">25</text>
<line x1="458.53" y1="461.6" x2="458.53" y2="464.6" stroke="#888" stroke-width="1"/>
<text x="458.53" y="474.8" text-anchor="middle" font-size="9" fill="#222222">30</text>
<line x1="482.58" y1="461.6" x2="482.58" y2="464.6" stroke="#888" stroke-width="1"/>
<text x="482.58" y="474.8" text-anchor="middle" font-size="9" fill="#222222">35</text>
<line x1="506.64" y1="461.6" x2="506.64" y2="464.6" stroke="#888" stroke-width="1"/>
<text x="506.64" y="474.8" text-anchor="middle" font-size="9" fill="#222222">40</text>
<line x1="530.69" y1="461.6" x2="530.69" y2="464.6" stroke="#888" stroke-width="1"/>
<text x="530.69" y="474.8" text-anchor="middle" font-size="9" fill="#222222">45</text>
<line x1="314.2" y1="694.9" x2="314.2" y2="387" stroke="#8a8a8a" stroke-width="1.2"/>
<line x1="313.7" y1="461.6" x2="527.69" y2="461.6" stroke="#8a8a8a" stroke-width="1.2"/>
<path d="M314.2,384 L316.9,389 L314.2,387.8 L311.5,389Z" fill="#111"/>
<path d="M531.49,461.6 L526.49,458.9 L527.69,461.6 L526.49,464.3Z" fill="#111"/>
<path d="M314.2,471.63 L315.4,473.56 L316.61,475.43 L317.81,477.25 L319.01,479.02 L320.21,480.73 L321.42,482.4 L322.62,484.01 L323.82,485.57 L325.02,487.09 L326.23,488.55 L327.43,489.97 L328.63,491.35 L329.84,492.67 L331.04,493.96 L332.24,495.2 L333.44,496.39 L334.65,497.55 L335.85,498.66 L337.05,499.73 L338.25,500.76 L339.46,501.75 L340.66,502.7 L341.86,503.61 L343.07,504.48 L344.27,505.32 L345.47,506.12 L346.67,506.89 L347.88,507.61 L349.08,508.31 L350.28,508.97 L351.49,509.59 L352.69,510.19 L353.89,510.75 L355.09,511.27 L356.3,511.77 L357.5,512.23 L358.7,512.67 L359.9,513.07 L361.11,513.44 L362.31,513.79 L363.51,514.11 L364.72,514.39 L365.92,514.65 L367.12,514.89 L368.32,515.09 L369.53,515.27 L370.73,515.42 L371.93,515.55 L373.13,515.65 L374.34,515.73 L375.54,515.78 L376.74,515.81 L377.95,515.82 L379.15,515.8 L380.35,515.76 L381.55,515.69 L382.76,515.61 L383.96,515.5 L385.16,515.37 L386.37,515.22 L387.57,515.05 L388.77,514.86 L389.97,514.64 L391.18,514.41 L392.38,514.16 L393.58,513.89 L394.78,513.6 L395.99,513.3 L397.19,512.97 L398.39,512.63 L399.6,512.27 L400.8,511.89 L402,511.5 L403.2,511.09 L404.41,510.66 L405.61,510.22 L406.81,509.76 L408.01,509.29 L409.22,508.8 L410.42,508.3 L411.62,507.79 L412.83,507.26 L414.03,506.71 L415.23,506.16 L416.43,505.59 L417.64,505.01 L418.84,504.41 L420.04,503.81 L421.24,503.19 L422.45,502.56 L423.65,501.92 L424.85,501.27 L426.06,500.61 L427.26,499.94 L428.46,499.27 L429.66,498.58 L430.87,497.88 L432.07,497.18 L433.27,496.46 L434.48,495.74 L435.68,495.01 L436.88,494.28 L438.08,493.54 L439.29,492.79 L440.49,492.04 L441.69,491.28 L442.89,490.51 L444.1,489.75 L445.3,488.97 L446.5,488.2 L447.71,487.42 L448.91,486.64 L450.11,485.85 L451.31,485.07 L452.52,484.28 L453.72,483.49 L454.92,482.71 L456.12,481.92 L457.33,481.13 L458.53,480.34 L459.73,479.56 L460.94,478.78 L462.14,478 L463.34,477.22 L464.54,476.45 L465.75,475.68 L466.95,474.91 L468.15,474.16 L469.35,473.4 L470.56,472.66 L471.76,471.92 L472.96,471.19 L474.17,470.47 L475.37,469.76 L476.57,469.05 L477.77,468.36 L478.98,467.68 L480.18,467.01 L481.38,466.36 L482.58,465.71 L483.79,465.09 L484.99,464.47 L486.19,463.87 L487.4,463.29 L488.6,462.73 L489.8,462.18 L491,461.65 L492.21,461.15 L493.41,460.66 L494.61,460.19 L495.82,459.75 L497.02,459.33 L498.22,458.93 L499.42,458.56 L500.63,458.22 L501.83,457.9 L503.03,457.61 L504.23,457.34 L505.44,457.11 L506.64,456.91" fill="none" stroke="#111" stroke-width="1.7" stroke-dasharray="3.7 1.9"/>
<path d="M314.2,471.69 L315.4,473.16 L316.61,474.63 L317.81,476.1 L319.01,477.58 L320.21,479.06 L321.42,480.54 L322.62,482.02 L323.82,483.51 L325.02,485 L326.23,486.5 L327.43,488.01 L328.63,489.52 L329.84,491.04 L331.04,492.57 L332.24,494.11 L333.44,495.66 L334.65,497.21 L335.85,498.78 L337.05,500.36 L338.25,501.95 L339.46,503.56 L340.66,505.17 L341.86,506.8 L343.07,508.44 L344.27,510.1 L345.47,511.76 L346.67,513.44 L347.88,515.13 L349.08,516.83 L350.28,518.54 L351.49,520.26 L352.69,521.99 L353.89,523.73 L355.09,525.48 L356.3,527.25 L357.5,529.02 L358.7,530.8 L359.9,532.6 L361.11,534.4 L362.31,536.21 L363.51,538.03 L364.72,539.85 L365.92,541.67 L367.12,543.48 L368.32,545.29 L369.53,547.09 L370.73,548.87 L371.93,550.64 L373.13,552.38 L374.34,554.11 L375.54,555.8 L376.74,557.46 L377.95,559.09 L379.15,560.68 L380.35,562.23 L381.55,563.73 L382.76,565.19 L383.96,566.6 L385.16,567.96 L386.37,569.28 L387.57,570.55 L388.77,571.78 L389.97,572.97 L391.18,574.12 L392.38,575.23 L393.58,576.31 L394.78,577.35 L395.99,578.35 L397.19,579.32 L398.39,580.26 L399.6,581.17 L400.8,582.05 L402,582.9 L403.2,583.73 L404.41,584.53 L405.61,585.3 L406.81,586.05 L408.01,586.77 L409.22,587.47 L410.42,588.14 L411.62,588.8 L412.83,589.42 L414.03,590.02 L415.23,590.6 L416.43,591.14 L417.64,591.64 L418.84,592.12 L420.04,592.56 L421.24,592.95 L422.45,593.31 L423.65,593.63 L424.85,593.92 L426.06,594.17 L427.26,594.39 L428.46,594.59 L429.66,594.76 L430.87,594.92 L432.07,595.06 L433.27,595.19 L434.48,595.3 L435.68,595.42 L436.88,595.52 L438.08,595.61 L439.29,595.68 L440.49,595.73 L441.69,595.75 L442.89,595.74 L444.1,595.69 L445.3,595.61 L446.5,595.48 L447.71,595.32 L448.91,595.12 L450.11,594.89 L451.31,594.63 L452.52,594.35 L453.72,594.03 L454.92,593.7 L456.12,593.34 L457.33,592.96 L458.53,592.56 L459.73,592.15 L460.94,591.72 L462.14,591.27 L463.34,590.8 L464.54,590.29 L465.75,589.75 L466.95,589.18 L468.15,588.56 L469.35,587.9 L470.56,587.18 L471.76,586.42 L472.96,585.59 L474.17,584.71 L475.37,583.78 L476.57,582.82 L477.77,581.84 L478.98,580.85 L480.18,579.86 L481.38,578.89 L482.58,577.93 L483.79,576.99 L484.99,576.06 L486.19,575.14 L487.4,574.24 L488.6,573.34 L489.8,572.46 L491,571.58 L492.21,570.72 L493.41,569.86 L494.61,569.01 L495.82,568.16 L497.02,567.33 L498.22,566.5 L499.42,565.67 L500.63,564.85 L501.83,564.03 L503.03,563.21 L504.23,562.4 L505.44,561.58 L506.64,560.77" fill="none" stroke="#111" stroke-width="1.45" stroke-linecap="round" stroke-dasharray="0.15 2.3"/>
<path d="M314.2,471.69 L315.4,473.34 L316.61,474.99 L317.81,476.64 L319.01,478.29 L320.21,479.93 L321.42,481.58 L322.62,483.22 L323.82,484.86 L325.02,486.5 L326.23,488.14 L327.43,489.77 L328.63,491.4 L329.84,493.03 L331.04,494.65 L332.24,496.27 L333.44,497.88 L334.65,499.49 L335.85,501.09 L337.05,502.69 L338.25,504.28 L339.46,505.87 L340.66,507.45 L341.86,509.04 L343.07,510.63 L344.27,512.24 L345.47,513.86 L346.67,515.5 L347.88,517.17 L349.08,518.87 L350.28,520.6 L351.49,522.36 L352.69,524.18 L353.89,526.04 L355.09,527.95 L356.3,529.91 L357.5,531.94 L358.7,534.03 L359.9,536.19 L361.11,538.41 L362.31,540.69 L363.51,543 L364.72,545.35 L365.92,547.71 L367.12,550.08 L368.32,552.44 L369.53,554.79 L370.73,557.12 L371.93,559.41 L373.13,561.65 L374.34,563.84 L375.54,565.95 L376.74,568 L377.95,569.99 L379.15,571.92 L380.35,573.79 L381.55,575.63 L382.76,577.42 L383.96,579.17 L385.16,580.89 L386.37,582.59 L387.57,584.27 L388.77,585.93 L389.97,587.58 L391.18,589.23 L392.38,590.88 L393.58,592.53 L394.78,594.2 L395.99,595.87 L397.19,597.56 L398.39,599.25 L399.6,600.92 L400.8,602.59 L402,604.23 L403.2,605.84 L404.41,607.42 L405.61,608.95 L406.81,610.43 L408.01,611.85 L409.22,613.21 L410.42,614.49 L411.62,615.69 L412.83,616.82 L414.03,617.89 L415.23,618.9 L416.43,619.85 L417.64,620.75 L418.84,621.62 L420.04,622.45 L421.24,623.25 L422.45,624.03 L423.65,624.79 L424.85,625.54 L426.06,626.27 L427.26,626.98 L428.46,627.67 L429.66,628.35 L430.87,629.01 L432.07,629.66 L433.27,630.3 L434.48,630.92 L435.68,631.53 L436.88,632.13 L438.08,632.7 L439.29,633.25 L440.49,633.76 L441.69,634.25 L442.89,634.69 L444.1,635.09 L445.3,635.44 L446.5,635.73 L447.71,635.98 L448.91,636.16 L450.11,636.3 L451.31,636.38 L452.52,636.42 L453.72,636.42 L454.92,636.37 L456.12,636.29 L457.33,636.17 L458.53,636.02 L459.73,635.84 L460.94,635.63 L462.14,635.37 L463.34,635.07 L464.54,634.72 L465.75,634.3 L466.95,633.83 L468.15,633.27 L469.35,632.64 L470.56,631.93 L471.76,631.14 L472.96,630.29 L474.17,629.41 L475.37,628.49 L476.57,627.58 L477.77,626.67 L478.98,625.8 L480.18,624.98 L481.38,624.21 L482.58,623.51 L483.79,622.86 L484.99,622.26 L486.19,621.72 L487.4,621.23 L488.6,620.78 L489.8,620.37 L491,620.01 L492.21,619.68 L493.41,619.38 L494.61,619.12 L495.82,618.88 L497.02,618.67 L498.22,618.49 L499.42,618.32 L500.63,618.17 L501.83,618.03 L503.03,617.91 L504.23,617.79 L505.44,617.68 L506.64,617.58" fill="none" stroke="#111" stroke-width="1.45" stroke-linecap="round" stroke-dasharray="0.15 2.3"/>
<path d="M314.2,471.69 L315.4,473.51 L316.61,475.33 L317.81,477.14 L319.01,478.96 L320.21,480.77 L321.42,482.57 L322.62,484.37 L323.82,486.16 L325.02,487.94 L326.23,489.71 L327.43,491.47 L328.63,493.21 L329.84,494.95 L331.04,496.66 L332.24,498.37 L333.44,500.05 L334.65,501.72 L335.85,503.37 L337.05,505 L338.25,506.61 L339.46,508.2 L340.66,509.77 L341.86,511.35 L343.07,512.95 L344.27,514.58 L345.47,516.24 L346.67,517.96 L347.88,519.75 L349.08,521.61 L350.28,523.57 L351.49,525.64 L352.69,527.81 L353.89,530.12 L355.09,532.58 L356.3,535.18 L357.5,537.95 L358.7,540.84 L359.9,543.84 L361.11,546.91 L362.31,550.02 L363.51,553.16 L364.72,556.28 L365.92,559.36 L367.12,562.38 L368.32,565.3 L369.53,568.12 L370.73,570.85 L371.93,573.49 L373.13,576.06 L374.34,578.57 L375.54,581.04 L376.74,583.48 L377.95,585.9 L379.15,588.31 L380.35,590.73 L381.55,593.18 L382.76,595.65 L383.96,598.15 L385.16,600.68 L386.37,603.2 L387.57,605.73 L388.77,608.23 L389.97,610.71 L391.18,613.15 L392.38,615.54 L393.58,617.86 L394.78,620.11 L395.99,622.27 L397.19,624.33 L398.39,626.28 L399.6,628.11 L400.8,629.81 L402,631.38 L403.2,632.84 L404.41,634.19 L405.61,635.45 L406.81,636.63 L408.01,637.74 L409.22,638.8 L410.42,639.82 L411.62,640.8 L412.83,641.75 L414.03,642.66 L415.23,643.54 L416.43,644.38 L417.64,645.18 L418.84,645.93 L420.04,646.64 L421.24,647.31 L422.45,647.92 L423.65,648.49 L424.85,649.01 L426.06,649.48 L427.26,649.9 L428.46,650.26 L429.66,650.58 L430.87,650.85 L432.07,651.06 L433.27,651.22 L434.48,651.33 L435.68,651.39 L436.88,651.39 L438.08,651.35 L439.29,651.25 L440.49,651.12 L441.69,650.93 L442.89,650.7 L444.1,650.43 L445.3,650.13 L446.5,649.78 L447.71,649.4 L448.91,648.98 L450.11,648.52 L451.31,648.02 L452.52,647.49 L453.72,646.91 L454.92,646.3 L456.12,645.64 L457.33,644.95 L458.53,644.21 L459.73,643.42 L460.94,642.6 L462.14,641.73 L463.34,640.82 L464.54,639.87 L465.75,638.88 L466.95,637.85 L468.15,636.78 L469.35,635.68 L470.56,634.53 L471.76,633.35 L472.96,632.15 L474.17,630.94 L475.37,629.71 L476.57,628.49 L477.77,627.28 L478.98,626.09 L480.18,624.92 L481.38,623.78 L482.58,622.68 L483.79,621.61 L484.99,620.57 L486.19,619.55 L487.4,618.56 L488.6,617.6 L489.8,616.65 L491,615.73 L492.21,614.83 L493.41,613.95 L494.61,613.08 L495.82,612.23 L497.02,611.39 L498.22,610.57 L499.42,609.75 L500.63,608.95 L501.83,608.15 L503.03,607.36 L504.23,606.57 L505.44,605.79 L506.64,605" fill="none" stroke="#111" stroke-width="1.45" stroke-linecap="round" stroke-dasharray="0.15 2.3"/>
<path d="M314.2,467.54 L316.8,470.14 L314.2,472.74 L311.6,470.14Z" fill="#12b04a"/>
<path d="M333.44,497.57 L336.04,500.17 L333.44,502.77 L330.84,500.17Z" fill="#12b04a"/>
<path d="M338.25,504.86 L340.86,507.46 L338.25,510.06 L335.65,507.46Z" fill="#12b04a"/>
<path d="M343.07,512.23 L345.67,514.83 L343.07,517.43 L340.47,514.83Z" fill="#12b04a"/>
<path d="M362.31,554.45 L364.91,557.05 L362.31,559.65 L359.71,557.05Z" fill="#12b04a"/>
<path d="M386.37,595.58 L388.97,598.18 L386.37,600.78 L383.76,598.18Z" fill="#12b04a"/>
<path d="M410.42,636.7 L413.02,639.3 L410.42,641.9 L407.82,639.3Z" fill="#12b04a"/>
<path d="M434.48,664.82 L437.08,667.42 L434.48,670.02 L431.88,667.42Z" fill="#12b04a"/>
<path d="M458.53,647.24 L461.13,649.84 L458.53,652.44 L455.93,649.84Z" fill="#12b04a"/>
<path d="M463.34,624.04 L465.94,626.64 L463.34,629.24 L460.74,626.64Z" fill="#12b04a"/>
<path d="M468.15,618.59 L470.75,621.19 L468.15,623.79 L465.55,621.19Z" fill="#12b04a"/>
<path d="M472.96,625.27 L475.56,627.87 L472.96,630.47 L470.36,627.87Z" fill="#12b04a"/>
<path d="M477.77,630.01 L480.37,632.61 L477.77,635.21 L475.17,632.61Z" fill="#12b04a"/>
<path d="M482.58,633.53 L485.19,636.13 L482.58,638.73 L479.98,636.13Z" fill="#12b04a"/>
<path d="M506.64,614.73 L509.24,617.33 L506.64,619.93 L504.04,617.33Z" fill="#12b04a"/>
<rect x="311.7" y="465.23" width="5" height="5" fill="#1570cc"/>
<rect x="330.94" y="494.8" width="5" height="5" fill="#1570cc"/>
<rect x="335.75" y="502.09" width="5" height="5" fill="#1570cc"/>
<rect x="340.57" y="508.61" width="5" height="5" fill="#1570cc"/>
<rect x="359.81" y="546.01" width="5" height="5" fill="#1570cc"/>
<rect x="383.87" y="576.28" width="5" height="5" fill="#1570cc"/>
<rect x="407.92" y="622.29" width="5" height="5" fill="#1570cc"/>
<rect x="431.98" y="623.09" width="5" height="5" fill="#1570cc"/>
<rect x="456.03" y="638.03" width="5" height="5" fill="#1570cc"/>
<rect x="460.84" y="638.91" width="5" height="5" fill="#1570cc"/>
<rect x="465.65" y="633.63" width="5" height="5" fill="#1570cc"/>
<rect x="470.46" y="619.75" width="5" height="5" fill="#1570cc"/>
<rect x="475.27" y="617.82" width="5" height="5" fill="#1570cc"/>
<rect x="480.08" y="618.69" width="5" height="5" fill="#1570cc"/>
<rect x="504.14" y="602.53" width="5" height="5" fill="#1570cc"/>
<path d="M314.2,461.87 L316.8,466.68 L311.6,466.68Z" fill="#d0021b"/>
<path d="M333.44,492.29 L336.04,497.1 L330.84,497.1Z" fill="#d0021b"/>
<path d="M338.25,498.81 L340.86,503.62 L335.65,503.62Z" fill="#d0021b"/>
<path d="M343.07,505.33 L345.67,510.14 L340.47,510.14Z" fill="#d0021b"/>
<path d="M362.31,538.93 L364.91,543.74 L359.71,543.74Z" fill="#d0021b"/>
<path d="M386.37,569.97 L388.97,574.78 L383.76,574.78Z" fill="#d0021b"/>
<path d="M410.42,591.23 L413.02,596.04 L407.82,596.04Z" fill="#d0021b"/>
<path d="M434.48,573.08 L437.08,577.89 L431.88,577.89Z" fill="#d0021b"/>
<path d="M458.53,593.64 L461.13,598.45 L455.93,598.45Z" fill="#d0021b"/>
<path d="M463.34,597.68 L465.94,602.49 L460.74,602.49Z" fill="#d0021b"/>
<path d="M468.15,593.11 L470.75,597.92 L465.55,597.92Z" fill="#d0021b"/>
<path d="M472.96,586.08 L475.56,590.89 L470.36,590.89Z" fill="#d0021b"/>
<path d="M477.77,575.71 L480.37,580.52 L475.17,580.52Z" fill="#d0021b"/>
<path d="M482.58,568.68 L485.19,573.49 L479.98,573.49Z" fill="#d0021b"/>
<path d="M506.64,558.14 L509.24,562.95 L504.04,562.95Z" fill="#d0021b"/>
<rect x="425" y="385" width="103" height="31.5" fill="#fff"/>
<path d="M445.6,385.6 L448.2,388.2 L445.6,390.8 L443,388.2Z" fill="#12b04a"/>
<text class="lg" x="458.2" y="391.2" font-size="7.7" fill="#1a1a1a">levcon_10</text>
<rect x="443.3" y="394.6" width="4.6" height="4.6" fill="#1570cc"/>
<text class="lg" x="458.2" y="399.9" font-size="7.7" fill="#1a1a1a">levcon_20</text>
<path d="M445.6,402.4 L448.1,407.02 L443.1,407.02Z" fill="#d0021b"/>
<text class="lg" x="458.2" y="407.9" font-size="7.7" fill="#1a1a1a">levcon_30</text>
<line x1="433.7" y1="413.1" x2="456.2" y2="413.1" stroke="#111" stroke-width="1.7" stroke-dasharray="3.7 1.9"/>
<text class="lg" x="458.2" y="416.1" font-size="7.7" fill="#1a1a1a">clean_model</text>
<text x="26.3" y="9.3" font-size="8.5" fill="#222222">C<tspan font-size="6.1" dy="1.4">L</tspan><tspan font-size="6.1">,</tspan><tspan dy="-1.4"> -</tspan></text>
<text x="307.4" y="9.3" font-size="8.5" fill="#222222">C<tspan font-size="6.1" dy="1.4">D</tspan><tspan font-size="6.1">,</tspan><tspan dy="-1.4"> -</tspan></text>
<text x="24" y="380" font-size="8.5" fill="#222222">C<tspan font-size="6.1" dy="1.9">L</tspan><tspan dy="-1.9">/C</tspan><tspan font-size="6.1" dy="1.9">D</tspan><tspan font-size="6.1">,</tspan><tspan dy="-1.9"> -</tspan></text>
<text x="310.1" y="379.7" font-size="8.5" fill="#222222">C<tspan font-size="6.1" dy="1.9">M</tspan><tspan font-size="6.1">,</tspan><tspan dy="-1.9"> -</tspan></text>
<text x="252.5" y="319.5" font-size="8.3" fill="#222222">α, °</text>
<text x="533" y="319.5" font-size="8.3" fill="#222222">α, °</text>
<text x="254.5" y="691.2" font-size="8.3" fill="#222222">α, °</text>
<text x="534.3" y="459.3" font-size="8.3" fill="#222222">α, °</text>
<text x="52.4" y="360.3" font-size="12.8" fill="#1a1a1a" textLength="166.8" lengthAdjust="spacingAndGlyphs">(<tspan font-weight="bold">a</tspan>) Lift coefficient comparison</text>
<text x="328.8" y="360.3" font-size="12.8" fill="#1a1a1a" textLength="176.3" lengthAdjust="spacingAndGlyphs">(<tspan font-weight="bold">b</tspan>) Drag coefficient comparison</text>
<text x="45.5" y="731.9" font-size="12.8" fill="#1a1a1a" textLength="180.2" lengthAdjust="spacingAndGlyphs">(<tspan font-weight="bold">c</tspan>) Lift-to-drag ratio comparison</text>
<text x="309.8" y="731.9" font-size="12.8" fill="#1a1a1a" textLength="214.5" lengthAdjust="spacingAndGlyphs">(<tspan font-weight="bold">d</tspan>) Momentum coefficient comparison</text>
</svg>
</body></html>
